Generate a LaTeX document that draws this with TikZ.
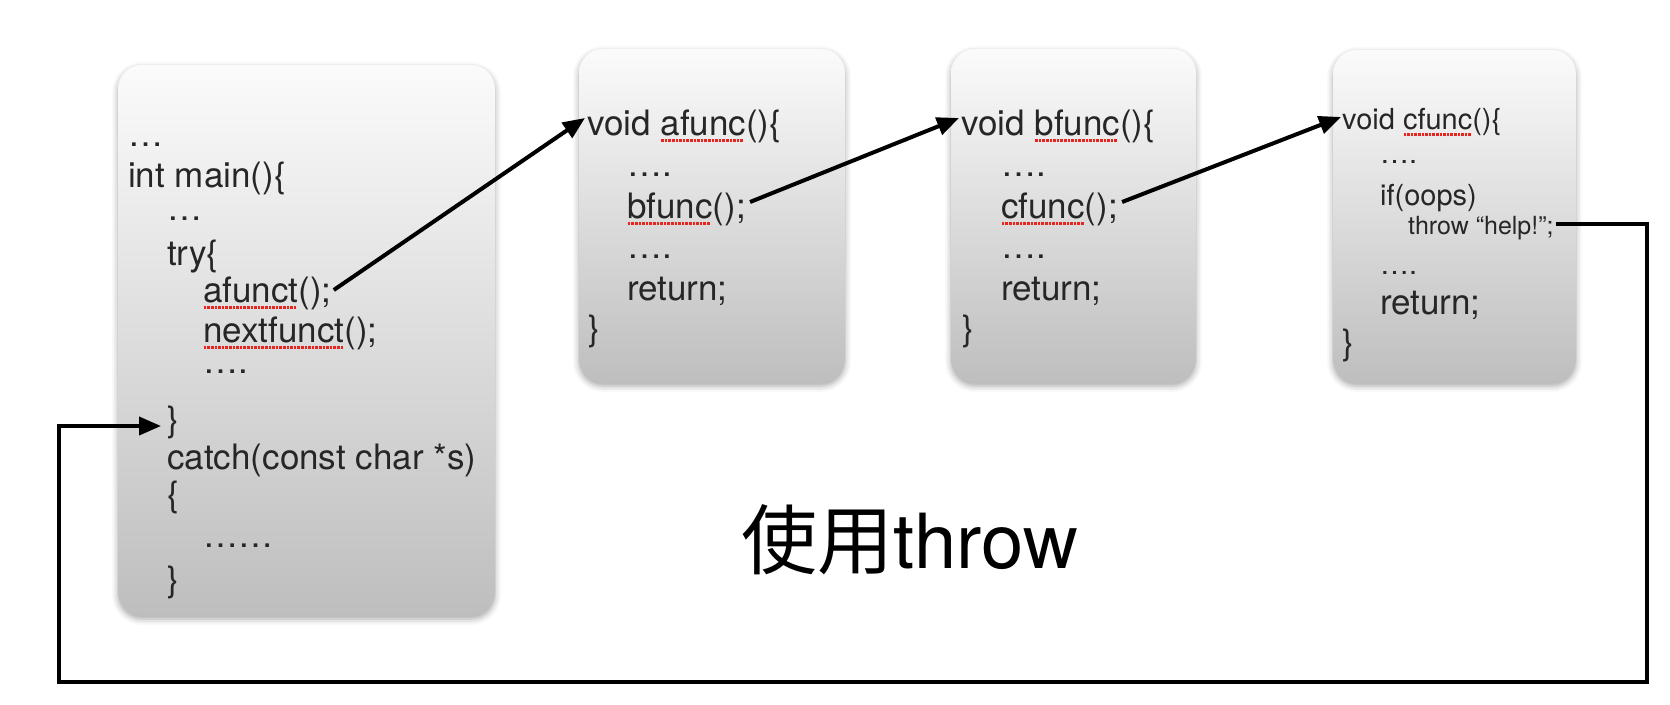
\documentclass[tikz,border=0pt]{standalone}
\usepackage{fontspec}
\setmainfont{TeX Gyre Heros}
\newfontfamily\cjk{Noto Sans CJK SC}
\usetikzlibrary{arrows.meta,shadows.blur}
\definecolor{txt}{HTML}{262626}
\definecolor{boxtop}{HTML}{FBFBFB}
\definecolor{boxbot}{HTML}{BEBEBE}
\definecolor{squigred}{HTML}{E8241C}
\newsavebox\sqbox
\newcommand\squig[1]{\leavevmode\sbox\sqbox{#1}\rlap{\raisebox{-7pt}[0pt][0pt]{\color{squigred}\leaders\hbox to 3.6pt{\hss\rule{2.6pt}{2.6pt}\hss}\hskip\wd\sqbox}}\usebox\sqbox}
\newcommand\codesize{\fontsize{35}{40}\selectfont}
\newcommand\midsize{\fontsize{29}{34}\selectfont}
\newcommand\smallsize{\fontsize{25}{30}\selectfont}
\tikzset{
  codebox/.style={draw=none, rounded corners=24pt, top color=boxtop, bottom color=boxbot,
    blur shadow={shadow xshift=0pt, shadow yshift=-3pt, shadow blur radius=6pt, shadow opacity=35},
    inner sep=0pt},
  code/.style={anchor=base west, inner sep=0pt, text=txt, font=\codesize},
  codemid/.style={code, font=\midsize},
  codesmall/.style={code, font=\smallsize},
  conn/.style={line width=4pt, draw=black, -{Triangle[length=22pt,width=18pt]}},
  title/.style={inner sep=0pt, text=black}
}
\begin{document}
\begin{tikzpicture}[x=1pt,y=1pt]
\useasboundingbox (0,0) rectangle (1670,-704);
% boxes
\path[codebox] (118,-65) rectangle (495,-616);
\path[codebox] (579,-49) rectangle (845,-383);
\path[codebox] (951,-49) rectangle (1196,-383);
\path[codebox] (1333,-50) rectangle (1576,-383);
% main box text
\node[code] (m1) at (128,-146) {…};
\node[code] (m2) at (128,-187) {int main()\{};
\node[code] (m3) at (167,-220) {…};
\node[code] (m4) at (167,-265) {try\{};
\node[code] (m5) at (203,-302) {\squig{afunct}();};
\node[code] (m6) at (203,-342) {\squig{nextfunct}();};
\node[code] (m7) at (203,-373) {….};
\node[code] (m8) at (167,-431) {\}};
\node[code] (m9) at (167,-469) {catch(const char *s)};
\node[code] (m10) at (167,-506) {\{};
\node[code] (m11) at (203,-547) {……};
\node[code] (m12) at (167,-591) {\}};
% afunc box
\node[code] (a1) at (587,-135) {void \squig{afunc}()\{};
\node[code] (a2) at (627,-176) {….};
\node[code] (a3) at (627,-218) {\squig{bfunc}();};
\node[code] (a4) at (627,-258) {….};
\node[code] (a5) at (627,-300) {return;};
\node[code] (a6) at (588,-340) {\}};
% bfunc box
\node[code] (b1) at (961,-135) {void \squig{bfunc}()\{};
\node[code] (b2) at (1001,-176) {….};
\node[code] (b3) at (1001,-218) {\squig{cfunc}();};
\node[code] (b4) at (1001,-258) {….};
\node[code] (b5) at (1001,-300) {return;};
\node[code] (b6) at (962,-340) {\}};
% cfunc box
\node[codemid] (c1) at (1342,-129) {void \squig{cfunc}()\{};
\node[codemid] (c2) at (1380,-163) {….};
\node[codemid] (c3) at (1380,-205) {if(oops)};
\node[codesmall] (c4) at (1408,-234) {throw “help!”;};
\node[codemid] (c5) at (1380,-274) {….};
\node[code] (c6) at (1380,-314) {return;};
\node[code] (c7) at (1342,-354) {\}};
% title
\node[title] (t) at (910,-540) {\fontsize{76}{80}\selectfont{\cjk 使用}throw};
% corners of the return path
\coordinate (cR) at (1647,-682);
\coordinate (cL) at (59,-682);
% connectors
\draw[conn] ([shift={(2,12)}]m5.base east) -- ([shift={(-2,17)}]a1.base west);
\draw[conn] ([shift={(4,16)}]a3.base east) -- ([shift={(-2,17)}]b1.base west);
\draw[conn] ([shift={(4,16)}]b3.base east) -- ([shift={(-1,12)}]c1.base west);
\draw[conn] ([shift={(2,10)}]c4.base east) -| (cR) -- (cL) |- ([shift={(-6,5)}]m8.base west);
\end{tikzpicture}
\end{document}
